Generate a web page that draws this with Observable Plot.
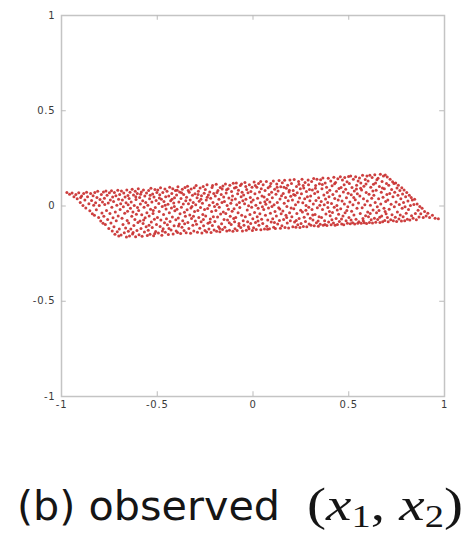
<!DOCTYPE html>
<html><head><meta charset="utf-8">
<script src="https://cdn.jsdelivr.net/npm/d3@7"></script>
<script src="https://cdn.jsdelivr.net/npm/@observablehq/plot@0.6"></script>
<style>
html,body{margin:0;padding:0;background:#fff;}
svg{display:block;}
</style></head><body>
<script>
const xTicks=[-1,-0.5,0,0.5,1];
const yTicks=[-1,-0.5,0,0.5,1];
const tickLabels=["-1","-0.5","0","0.5","1"];
const caption="(b) observed";
// observed (x1, x2) samples
const observed=[
[-.972,.071],[-.958,.062],[-.945,.068],[-.935,.049],
[-.925,.061],[-.918,.038],[-.91,.07],[-.902,.019],[-.895,.052],[-.888,.003],[-.884,.066],[-.9,.044],
[-.878,.031],[-.873,-.01],[-.869,.072],[-.864,.048],[-.857,.012],[-.852,-.025],[-.848,.066],[-.843,.029],[-.839,-.041],[-.835,.054],[-.832,.004],
[-.828,-.048],[-.826,.071],[-.822,.017],[-.818,-.02],[-.815,.045],[-.811,.077],[-.806,-.061],[-.803,.003],[-.799,.034],[-.795,-.079],[-.792,.06],[-.789,-.037],[-.786,.021],[-.783,-.09],[-.781,.074],
[-.779,-.054],[-.776,.041],[-.774,.008],[-.771,-.097],[-.768,.079],[-.765,-.023],[-.762,.057],[-.759,-.071],[-.756,.016],[-.753,-.118],[-.75,.069],[-.747,-.04],[-.745,.031],[-.742,-.089],[-.739,.08],[-.737,-.006],[-.735,-.131],[-.733,.047],[-.731,-.062],
[-.728,.023],[-.726,-.109],[-.724,.071],[-.721,-.148],[-.719,-.031],[-.716,.054],[-.714,-.078],[-.711,.004],[-.709,-.135],[-.706,.083],[-.704,-.052],[-.702,.036],[-.701,-.158],
[-.698,-.121],[-.696,.061],[-.694,-.019],[-.691,.012],[-.689,-.152],[-.687,.079],[-.684,-.064],[-.682,.032],[-.679,-.097],[-.677,-.004],[-.675,.068],[-.672,-.141],[-.67,-.038],[-.668,.047],[-.665,-.115],[-.663,.017],[-.661,-.163],[-.659,.084],[-.657,-.076],[-.655,-.027],[-.653,.055],[-.651,-.133],[-.652,.006],
[-.649,-.089],[-.647,.039],[-.645,-.158],[-.642,.072],[-.64,-.012],[-.638,-.121],[-.636,.021],[-.633,-.054],[-.631,.088],[-.629,-.147],[-.627,-.031],[-.624,.058],[-.622,-.103],[-.62,.003],[-.617,-.071],[-.615,.077],[-.613,-.162],[-.611,.034],[-.609,-.043],[-.606,-.129],[-.604,.066],[-.603,-.008],[-.601,-.086],[-.612,.049],[-.626,-.139],
[-.599,.091],[-.597,-.024],[-.595,-.151],[-.592,.045],[-.59,-.079],[-.588,.011],[-.585,-.118],[-.583,.073],[-.581,-.046],[-.579,-.159],[-.576,.027],[-.574,-.092],[-.572,.084],[-.569,-.006],[-.567,-.136],[-.565,.052],[-.563,-.062],[-.56,.018],[-.558,-.109],[-.556,.068],[-.554,-.035],[-.552,-.155],[-.587,.062],[-.571,-.074],
[-.549,.004],[-.547,-.127],[-.545,.081],[-.542,-.052],[-.54,.038],[-.538,-.148],[-.535,-.017],[-.533,.093],[-.531,-.084],[-.528,.021],[-.526,-.113],[-.524,.063],[-.522,-.039],[-.519,-.156],[-.517,.047],[-.515,-.069],[-.512,.087],[-.51,-.008],[-.508,-.134],[-.506,.029],[-.504,-.097],[-.502,.071],[-.537,.057],[-.521,-.023],[-.513,-.145],[-.543,-.101],
[-.499,-.061],[-.497,.084],[-.494,-.142],[-.492,.013],[-.49,-.029],[-.487,.059],[-.485,-.107],[-.483,.096],[-.481,-.074],[-.478,.035],[-.476,-.153],[-.474,-.002],[-.471,.071],[-.469,-.119],[-.467,-.045],[-.465,.024],[-.462,-.088],[-.46,.089],[-.458,-.138],[-.456,.048],[-.454,-.016],[-.452,-.067],[-.489,.042],[-.473,-.131],[-.459,.004],
[-.449,.077],[-.447,-.098],[-.444,.009],[-.442,-.149],[-.44,.052],[-.437,-.036],[-.435,.099],[-.433,-.081],[-.43,.028],[-.428,-.126],[-.426,-.011],[-.424,.065],[-.421,-.058],[-.419,.091],[-.417,-.147],[-.414,.016],[-.412,-.104],[-.41,.043],[-.408,-.025],[-.405,.082],[-.403,-.072],[-.401,-.131],[-.439,-.118],[-.423,.036],[-.411,-.003],
[-.399,.058],[-.397,-.017],[-.394,-.139],[-.392,.101],[-.39,-.063],[-.387,.021],[-.385,-.094],[-.383,.074],[-.381,-.041],[-.378,-.145],[-.376,.039],[-.374,-.006],[-.371,-.112],[-.369,.088],[-.367,-.077],[-.364,.011],[-.362,.061],[-.36,-.128],[-.358,-.033],[-.355,.097],[-.353,-.054],[-.351,.028],[-.389,-.105],[-.373,.069],[-.357,-.093],[-.396,.083],
[-.349,-.141],[-.347,.046],[-.344,-.02],[-.342,.104],[-.34,-.087],[-.337,.012],[-.335,-.118],[-.333,.072],[-.33,-.047],[-.328,.031],[-.326,-.143],[-.323,.089],[-.321,-.066],[-.319,-.003],[-.316,.057],[-.314,-.101],[-.312,.018],[-.309,-.131],[-.307,.096],[-.305,-.029],[-.303,.064],[-.301,-.079],[-.338,.081],[-.324,-.011],[-.311,-.054],
[-.299,.007],[-.297,.108],[-.295,-.096],[-.292,.043],[-.29,-.138],[-.288,-.024],[-.285,.078],[-.283,-.061],[-.281,.025],[-.278,-.117],[-.276,.095],[-.274,-.008],[-.271,-.083],[-.269,.054],[-.267,-.142],[-.264,.014],[-.262,-.044],[-.26,.102],[-.258,-.104],[-.255,.067],[-.253,-.019],[-.251,-.129],[-.287,.061],[-.272,.036],[-.259,-.071],
[-.249,.087],[-.247,-.052],[-.244,.031],[-.242,-.136],[-.24,.111],[-.237,-.013],[-.235,-.091],[-.233,.058],[-.23,-.121],[-.228,.004],[-.226,.074],[-.223,-.068],[-.221,.041],[-.219,-.139],[-.216,-.029],[-.214,.097],[-.212,-.103],[-.209,.019],[-.207,-.057],[-.205,.066],[-.203,-.126],[-.201,-.002],[-.239,.046],[-.225,-.085],[-.211,.108],
[-.199,-.081],[-.197,.053],[-.194,-.023],[-.192,.114],[-.19,-.132],[-.187,.009],[-.185,-.058],[-.183,.082],[-.18,-.109],[-.178,.036],[-.176,-.007],[-.173,-.135],[-.171,.097],[-.169,-.042],[-.166,.061],[-.164,-.093],[-.162,.018],[-.159,-.124],[-.157,.105],[-.155,-.031],[-.153,.047],[-.151,-.071],[-.188,.071],[-.174,-.118],[-.161,.089],
[-.149,.024],[-.147,-.112],[-.144,.116],[-.142,-.039],[-.14,.068],[-.137,-.131],[-.135,.003],[-.133,-.074],[-.13,.091],[-.128,-.017],[-.126,.042],[-.123,-.127],[-.121,.109],[-.119,-.054],[-.116,.014],[-.114,-.097],[-.112,.076],[-.109,-.028],[-.107,.053],[-.105,-.133],[-.103,.119],[-.101,-.065],[-.138,.085],[-.124,-.088],[-.11,.031],
[-.099,-.014],[-.097,.094],[-.094,-.119],[-.092,.037],[-.09,-.061],[-.087,.121],[-.085,.006],[-.083,-.129],[-.08,.064],[-.078,-.036],[-.076,.083],[-.073,-.092],[-.071,.019],[-.069,-.008],[-.066,.107],[-.064,-.113],[-.062,.048],[-.059,-.049],[-.057,.072],[-.055,-.131],[-.053,.027],[-.051,-.078],[-.088,.099],[-.074,-.104],[-.06,.115],[-.096,-.083],
[-.049,.058],[-.047,-.101],[-.044,.012],[-.042,.124],[-.04,-.056],[-.037,.036],[-.035,-.127],[-.033,.087],[-.03,-.021],[-.028,-.083],[-.026,.069],[-.023,.001],[-.021,-.119],[-.019,.112],[-.016,-.044],[-.014,.045],[-.012,-.092],[-.009,.021],[-.007,-.006],[-.005,.098],[-.003,-.128],[-.001,-.067],[-.038,.103],[-.024,-.109],[-.011,.076],
[.001,.031],[.003,-.114],[.006,.126],[.008,-.034],[.01,.064],[.013,-.087],[.015,.004],[.017,-.124],[.02,.099],[.022,-.057],[.024,.041],[.027,-.012],[.029,.118],[.031,-.101],[.034,.073],[.036,-.041],[.038,.017],[.041,-.125],[.043,.091],[.045,-.069],[.047,.052],[.049,-.004],[.012,.108],[.026,-.079],[.04,.128],
[.051,-.092],[.053,.112],[.056,-.018],[.058,.047],[.06,-.121],[.063,.081],[.065,-.049],[.067,.009],[.07,.129],[.072,-.106],[.074,.034],[.077,-.073],[.079,.096],[.081,-.011],[.084,.061],[.086,-.119],[.088,.021],[.091,-.038],[.093,.118],[.095,-.084],[.097,.072],[.099,-.002],[.062,.022],[.076,-.122],[.089,.104],
[.101,.043],[.103,-.067],[.106,.131],[.108,-.112],[.11,.007],[.113,.088],[.115,-.029],[.117,-.118],[.12,.062],[.122,-.053],[.124,.116],[.127,.019],[.129,-.094],[.131,.079],[.134,-.009],[.136,.134],[.138,-.076],[.141,.037],[.143,-.117],[.145,.101],[.147,-.041],[.149,.054],[.112,-.087],[.126,.099],[.14,-.016],
[.151,-.104],[.153,.122],[.156,-.026],[.158,.066],[.16,-.071],[.163,.014],[.165,.135],[.167,-.113],[.17,.045],[.172,-.048],[.174,.093],[.177,-.003],[.179,-.089],[.181,.109],[.184,.028],[.186,-.115],[.188,.074],[.191,-.035],[.193,.137],[.195,-.078],[.197,.051],[.199,-.011],[.162,.099],[.176,-.061],[.19,.083],
[.201,.118],[.203,-.057],[.206,.032],[.208,-.109],[.21,.081],[.213,-.015],[.215,.139],[.217,-.084],[.22,.056],[.222,.006],[.224,-.111],[.227,.103],[.229,-.039],[.231,.069],[.234,-.098],[.236,.021],[.238,.128],[.241,-.066],[.243,.042],[.245,-.113],[.247,.091],[.249,-.022],[.212,.061],[.226,-.076],[.24,.114],
[.251,-.092],[.253,.064],[.256,.141],[.258,-.031],[.26,.017],[.263,-.108],[.265,.094],[.267,-.059],[.27,.038],[.272,.123],[.274,-.081],[.277,.003],[.279,.076],[.281,-.109],[.284,.049],[.286,-.042],[.288,.136],[.291,-.007],[.293,-.095],[.295,.086],[.297,.027],[.299,-.064],[.262,.107],[.276,-.022],[.29,.112],
[.301,.052],[.303,-.101],[.306,.129],[.308,-.018],[.31,.084],[.313,-.073],[.315,.011],[.317,.144],[.32,-.104],[.322,.066],[.324,-.045],[.327,.108],[.329,.029],[.331,-.088],[.334,.141],[.336,-.009],[.338,.075],[.341,-.106],[.343,.043],[.345,-.056],[.347,.117],[.349,.004],[.312,-.047],[.326,.093],[.34,-.079],
[.351,-.096],[.353,.138],[.356,.024],[.358,-.061],[.36,.091],[.363,-.019],[.365,.147],[.367,-.101],[.37,.058],[.372,.007],[.374,-.077],[.377,.121],[.379,.037],[.381,-.042],[.384,.099],[.386,-.103],[.388,.071],[.391,-.008],[.393,.146],[.395,-.084],[.397,.049],[.399,-.029],[.362,.113],[.376,-.097],[.39,.019],
[.401,.083],[.403,-.051],[.406,.131],[.408,-.099],[.41,.013],[.413,.106],[.415,-.034],[.417,.061],[.42,-.089],[.422,.151],[.424,-.006],[.427,.039],[.429,-.101],[.431,.124],[.434,-.066],[.436,.077],[.438,.002],[.441,-.097],[.443,.143],[.445,.031],[.447,-.043],[.449,.092],[.412,-.072],[.426,.117],[.44,-.021],
[.451,-.082],[.453,.053],[.456,.154],[.458,-.014],[.46,.097],[.463,-.094],[.465,.026],[.467,.136],[.47,-.053],[.472,.074],[.474,-.098],[.477,.011],[.479,.149],[.481,-.036],[.484,.088],[.486,-.077],[.488,.043],[.491,.127],[.493,-.091],[.495,-.004],[.497,.067],[.499,.155],[.462,-.068],[.476,.112],[.49,-.024],
[.501,-.061],[.503,.118],[.506,.021],[.508,-.093],[.51,.157],[.513,.059],[.515,-.027],[.517,.097],[.52,-.088],[.522,.006],[.524,.141],[.527,-.047],[.529,.079],[.531,-.095],[.534,.033],[.536,.153],[.538,-.069],[.541,.109],[.543,-.012],[.545,.064],[.547,-.091],[.549,.131],[.512,-.074],[.526,.044],[.54,.089],
[.551,.016],[.553,-.083],[.556,.147],[.558,.052],[.56,-.039],[.563,.121],[.565,-.091],[.567,.084],[.57,-.009],[.572,.161],[.574,-.066],[.577,.038],[.579,.104],[.581,-.088],[.584,.007],[.586,.139],[.588,-.051],[.591,.071],[.593,-.092],[.595,.158],[.597,.026],[.599,-.031],[.562,.093],[.576,-.077],[.59,.116],
[.601,.131],[.603,-.057],[.606,.062],[.608,-.087],[.61,.162],[.613,.004],[.615,.098],[.617,-.072],[.62,.041],[.622,.149],[.624,-.089],[.627,-.021],[.629,.114],[.631,.057],[.634,-.064],[.636,.164],[.638,.019],[.641,-.085],[.643,.083],[.645,-.036],[.647,.138],[.649,-.004],[.612,-.039],[.626,.079],[.64,.121],
[.651,-.071],[.653,.146],[.656,.038],[.658,-.024],[.66,.103],[.663,-.086],[.665,.167],[.667,.011],[.67,.072],[.672,-.053],[.674,.129],[.677,-.083],[.679,.046],[.681,.157],[.684,-.012],[.686,.091],[.688,-.076],[.691,.163],[.693,.024],[.695,-.041],[.697,.118],[.699,.061],[.662,-.059],[.676,.094],[.69,-.029],
[.701,.152],[.702,-.061],[.704,.031],[.706,-.083],[.709,.109],[.711,-.017],[.714,.066],[.716,.141],[.719,-.072],[.721,.009],[.724,.087],[.726,-.046],[.729,.127],
[.731,.049],[.733,-.078],[.736,.118],[.738,-.004],[.74,.072],[.743,-.059],[.745,.121],[.747,.021],[.75,-.081],[.752,.094],[.754,-.031],[.757,.056],[.759,.109],[.762,-.068],[.764,.008],[.767,.081],[.769,-.047],[.772,.038],[.775,-.079],[.777,.096],[.779,-.012],
[.781,.063],[.784,-.056],[.786,.019],[.789,.084],[.792,-.077],[.794,-.004],[.797,.048],[.8,-.038],[.803,.071],[.806,-.069],[.809,.026],[.812,-.019],[.816,.057],[.819,-.074],[.822,.002],[.826,.044],[.828,-.051],
[.832,.031],[.836,-.064],[.84,.008],[.844,.036],[.848,-.039],[.853,-.072],[.857,.011],[.862,-.022],[.867,-.058],[.871,-.003],[.876,-.041],
[.883,-.012],[.889,-.061],[.896,-.029],[.904,-.052],[.913,-.038],[.922,-.061],
[.937,-.049],[.951,-.064],[.968,-.067]
];
const fmt = d => tickLabels[xTicks.indexOf(d)];
const chart = Plot.plot({
  width:474, height:430,
  marginTop:15, marginLeft:61, marginRight:30, marginBottom:34,
  style:{fontFamily:"'DejaVu Sans', sans-serif", fontSize:"10px", color:"#3a3a3a", background:"#fff"},
  x:{domain:[-1,1]}, y:{domain:[-1,1]},
  marks:[
    Plot.frame({stroke:"#c4c4c4", strokeWidth:1.5}),
    Plot.ruleX(xTicks.slice(1,-1), {y1:-1, y2:-0.975, stroke:"#bbb"}),
    Plot.ruleX(xTicks.slice(1,-1), {y1:0.975, y2:1, stroke:"#bbb"}),
    Plot.ruleY(yTicks.slice(1,-1), {x1:-1, x2:-0.975, stroke:"#bbb"}),
    Plot.ruleY(yTicks.slice(1,-1), {x1:0.975, x2:1, stroke:"#bbb"}),
    Plot.axisX({ticks:xTicks, tickSize:0, tickPadding:4, tickFormat:fmt, label:null}),
    Plot.axisY({ticks:yTicks, tickSize:0, tickPadding:6, tickFormat:fmt, label:null}),
    Plot.dot(observed, {x:d=>d[0], y:d=>d[1], r:1.5, fill:"#c92f2f", fillOpacity:0.92, stroke:null})
  ]
});
chart.style.letterSpacing = "0.8px";
document.body.appendChild(chart);
const ns="http://www.w3.org/2000/svg";
const cap=document.createElementNS(ns,"svg");
cap.setAttribute("width","474"); cap.setAttribute("height","111");
cap.innerHTML =
 `<text x="17" y="90" font-family="DejaVu Sans" font-size="40" textLength="263" lengthAdjust="spacingAndGlyphs" fill="#151515">${caption}</text>`+
 `<text x="307" y="90" font-family="Liberation Serif" font-size="46" textLength="156" lengthAdjust="spacingAndGlyphs" fill="#151515">(<tspan font-style="italic">x</tspan><tspan font-size="31" dy="7">1</tspan><tspan dy="-7">, </tspan><tspan font-style="italic">x</tspan><tspan font-size="31" dy="7">2</tspan><tspan dy="-7">)</tspan></text>`;
document.body.appendChild(cap);
</script>
</body></html>
